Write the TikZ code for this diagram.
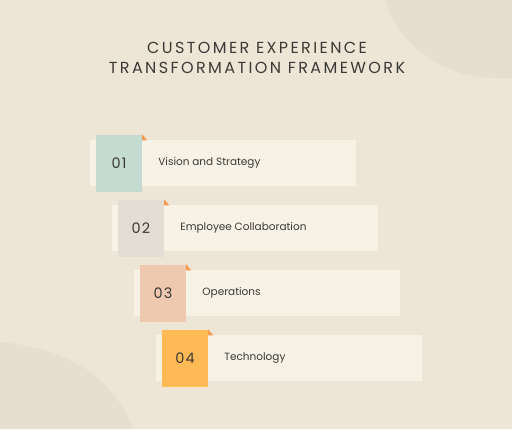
\documentclass[tikz,border=0pt]{standalone}
\usepackage{fontspec}
\setmainfont{Poppins}
\usetikzlibrary{positioning}
\definecolor{mybg}{RGB}{237,230,215}
\definecolor{myblob}{RGB}{230,223,208}
\definecolor{mybar}{RGB}{246,242,230}
\definecolor{mygreen}{RGB}{195,219,208}
\definecolor{mygray}{RGB}{228,221,211}
\definecolor{mypeach}{RGB}{238,200,175}
\definecolor{myorange}{RGB}{255,186,85}
\definecolor{myfold}{RGB}{245,155,80}
\definecolor{mytext}{RGB}{60,58,54}
\newfontfamily\titlefont[LetterSpace=15]{Poppins}
\newfontfamily\numfont[LetterSpace=8]{Poppins}

\begin{document}
\begin{tikzpicture}[x=1pt,y=-1pt,inner sep=0pt,text=mytext]
\tikzstyle{blob}=[fill=myblob]
\tikzstyle{bar}=[rectangle, fill=mybar, minimum width=266pt, minimum height=46pt]
\tikzstyle{numbox}=[rectangle, minimum width=46pt, minimum height=57pt, font=\numfont\fontsize{14.5}{14.5}\selectfont]
\tikzstyle{label}=[font=\fontsize{10.5}{12}\selectfont, anchor=west]
\tikzstyle{fold}=[fill=myfold]
% background and corner shapes
\fill[mybg] (0,0) rectangle (512,429);
\useasboundingbox (0,0) rectangle (512,429);
\fill[blob] (385,0) .. controls (395,40) and (440,78) .. (495,78) -- (512,78) -- (512,0) -- cycle;
\fill[blob] (0,342) .. controls (60,348) and (110,370) .. (133,429) -- (0,429) -- cycle;
% title
\node (title) at (257,58) [align=center, font=\titlefont\fontsize{16}{20}\selectfont] {CUSTOMER EXPERIENCE\\TRANSFORMATION FRAMEWORK};
% steps
\node[bar] (bar1) at (223,163) {};
\node[bar] (bar2) at (245,228) {};
\node[bar] (bar3) at (267,293) {};
\node[bar] (bar4) at (289,358) {};
\node[numbox,fill=mygreen,anchor=west] (num1) [right=6pt of bar1.west] {01};
\node[numbox,fill=mygray,anchor=west] (num2) [right=6pt of bar2.west] {02};
\node[numbox,fill=mypeach,anchor=west] (num3) [right=6pt of bar3.west] {03};
\node[numbox,fill=myorange,anchor=west] (num4) [right=6pt of bar4.west] {04};
\node[label] (lab1) [right=16pt of num1.east] {Vision and Strategy};
\node[label] (lab2) [right=16pt of num2.east] {Employee Collaboration};
\node[label] (lab3) [right=16pt of num3.east] {Operations};
\node[label] (lab4) [right=16pt of num4.east] {Technology};
\fill[fold] (num1.north east) -- ++(0,6) -- ++(5,0) -- cycle;
\fill[fold] (num2.north east) -- ++(0,6) -- ++(5,0) -- cycle;
\fill[fold] (num3.north east) -- ++(0,6) -- ++(5,0) -- cycle;
\fill[fold] (num4.north east) -- ++(0,6) -- ++(5,0) -- cycle;
\end{tikzpicture}
\end{document}
